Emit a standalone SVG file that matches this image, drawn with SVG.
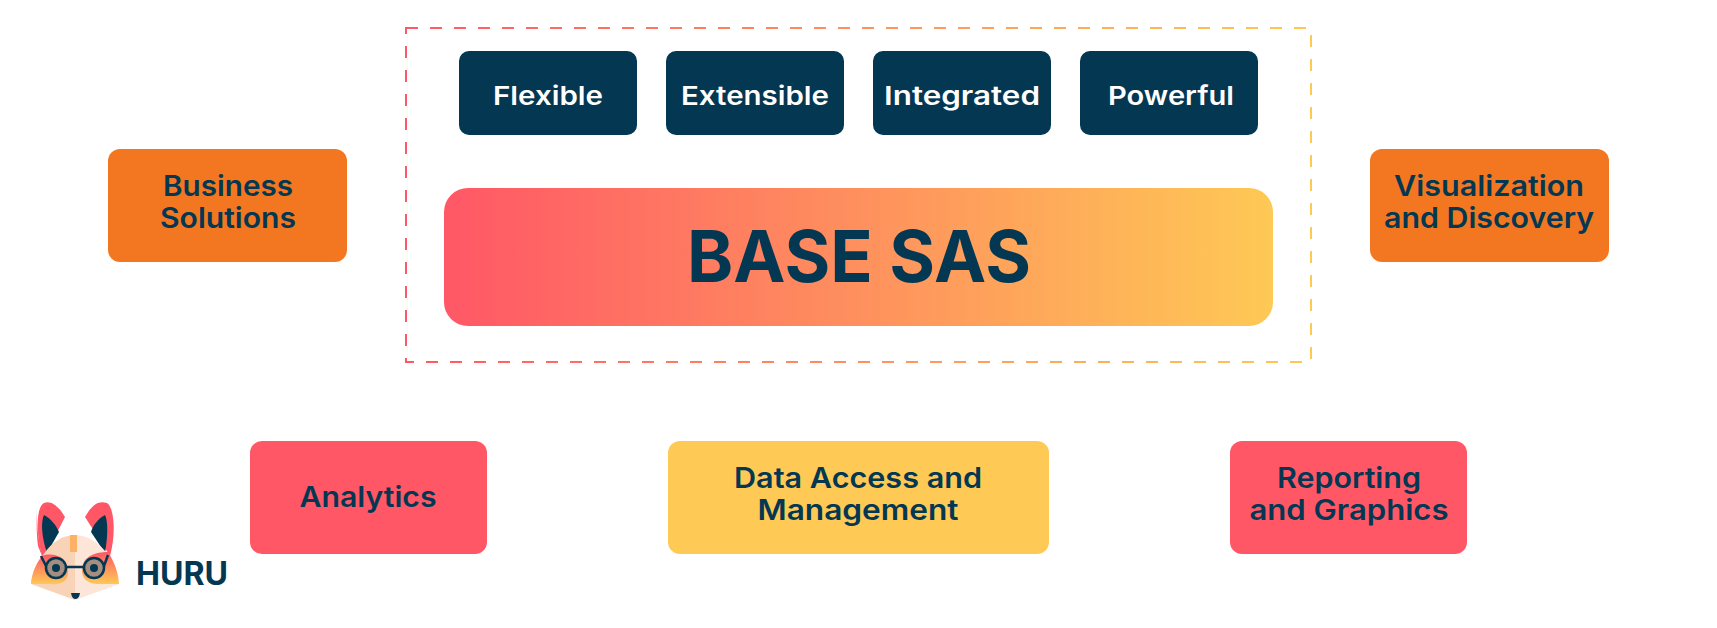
<svg xmlns="http://www.w3.org/2000/svg" width="1717" height="628" viewBox="0 0 1717 628">
<style>
text{font-family:"Inter","Liberation Sans",sans-serif;font-weight:600;text-anchor:middle;fill:#043752}
.t{font-size:26px;fill:#fff}
.n{font-size:28px}
.d{fill:#043752}
.o{fill:#f37720}
.r{fill:#ff5766}
.y{fill:#fec955}
</style>
<defs>
<linearGradient id="g" x1="0" x2="1" y1="0" y2="0"><stop offset="0" stop-color="#ff5766"/><stop offset="1" stop-color="#fec955"/></linearGradient>
<linearGradient id="gb" gradientUnits="userSpaceOnUse" x1="406" x2="1311" y1="0" y2="0"><stop offset="0" stop-color="#ff5766"/><stop offset="1" stop-color="#fec955"/></linearGradient>
<linearGradient id="c1" x1="0" x2="0" y1="0" y2="1"><stop offset="0" stop-color="#ff5766"/><stop offset="1" stop-color="#fec955"/></linearGradient>
</defs>
<rect x="406" y="28" width="905" height="334" fill="none" stroke="url(#gb)" stroke-width="2" stroke-dasharray="12 12"/>
<g id="flexible"><rect class="d" x="459" y="51" width="178" height="84" rx="10"/><text class="t" x="548" y="105" textLength="110" lengthAdjust="spacingAndGlyphs">Flexible</text></g>
<g id="extensible"><rect class="d" x="666" y="51" width="178" height="84" rx="10"/><text class="t" x="755" y="105" textLength="148" lengthAdjust="spacingAndGlyphs">Extensible</text></g>
<g id="integrated"><rect class="d" x="873" y="51" width="178" height="84" rx="10"/><text class="t" x="962" y="105" textLength="156" lengthAdjust="spacingAndGlyphs">Integrated</text></g>
<g id="powerful"><rect class="d" x="1080" y="51" width="178" height="84" rx="10"/><text class="t" x="1171" y="105" textLength="126" lengthAdjust="spacingAndGlyphs">Powerful</text></g>
<g id="base-sas"><rect x="444" y="188" width="829" height="138" rx="24" fill="url(#g)"/><text x="859" y="282" font-size="72" style="font-weight:700" textLength="344" lengthAdjust="spacingAndGlyphs">BASE SAS</text></g>
<g id="business"><rect class="o" x="108" y="149" width="239" height="113" rx="12"/><text class="n" x="228" y="196" textLength="130" lengthAdjust="spacingAndGlyphs">Business</text><text class="n" x="228" y="228" textLength="136" lengthAdjust="spacingAndGlyphs">Solutions</text></g>
<g id="visualization"><rect class="o" x="1370" y="149" width="239" height="113" rx="12"/><text class="n" x="1489" y="196" textLength="190" lengthAdjust="spacingAndGlyphs">Visualization</text><text class="n" x="1489" y="228" textLength="210" lengthAdjust="spacingAndGlyphs">and Discovery</text></g>
<g id="analytics"><rect class="r" x="250" y="441" width="237" height="113" rx="12"/><text class="n" x="368" y="507" textLength="137" lengthAdjust="spacingAndGlyphs">Analytics</text></g>
<g id="data"><rect class="y" x="668" y="441" width="381" height="113" rx="12"/><text class="n" x="858" y="488" textLength="248" lengthAdjust="spacingAndGlyphs">Data Access and</text><text class="n" x="858" y="520" textLength="201" lengthAdjust="spacingAndGlyphs">Management</text></g>
<g id="reporting"><rect class="r" x="1230" y="441" width="237" height="113" rx="12"/><text class="n" x="1349" y="488" textLength="144" lengthAdjust="spacingAndGlyphs">Reporting</text><text class="n" x="1349" y="520" textLength="199" lengthAdjust="spacingAndGlyphs">and Graphics</text></g>
<g id="logo">
<path d="M42 556Q36 530 37 510Q36 532 38 546L42 556Z" fill="#ff5766"/>
<path d="M42 556C35 530 37 506 44 503C50 500 58 505 65 517L47 552Z" fill="#ff5766"/>
<path d="M110 556C117 530 113 506 107 503C98 500 92 505 85 517Z" fill="#ff5766"/>
<path d="M47 553C41 535 41 521 44 515C51 519 56 525 59 532Z" fill="#043752"/>
<path d="M105 553C108 535 108 521 105 515C98 519 93 525 91 532Z" fill="#043752"/>
<path d="M75 535C58 535 44 550 40 562C34 570 31 578 31 584L75 600Z" fill="#f9d3b8"/>
<path d="M75 535C92 535 107 550 112 562C116 570 118 578 119 584L75 600Z" fill="#fde6d8"/>
<path d="M70 535H77V552H70Z" fill="#fdb164"/>
<path d="M31 584C32 572 36 564 42 556C52 552 68 556 68 572C68 582 60 585 50 584Z" fill="url(#c1)"/>
<path d="M119 584C118 570 113 560 108 552C96 552 82 556 82 570C82 582 92 584 100 584Z" fill="url(#c1)"/>
<circle cx="56" cy="568" r="10" fill="#a58d80" stroke="#043752" stroke-width="2.5"/>
<circle cx="94" cy="568" r="10" fill="#a58d80" stroke="#043752" stroke-width="2.5"/>
<circle cx="56" cy="568" r="4" fill="#043752"/><circle cx="94" cy="568" r="4" fill="#043752"/>
<path d="M66 567H84M46 566L41 556M104 566L108 555" fill="none" stroke="#043752" stroke-width="2.5"/>
<path d="M71 593H80Q79 599 75.500 599Q72 599 71 593Z" fill="#043752"/>
<text x="182" y="585" font-size="32" style="font-weight:700" textLength="92" lengthAdjust="spacingAndGlyphs">HURU</text>
</g>
</svg>
